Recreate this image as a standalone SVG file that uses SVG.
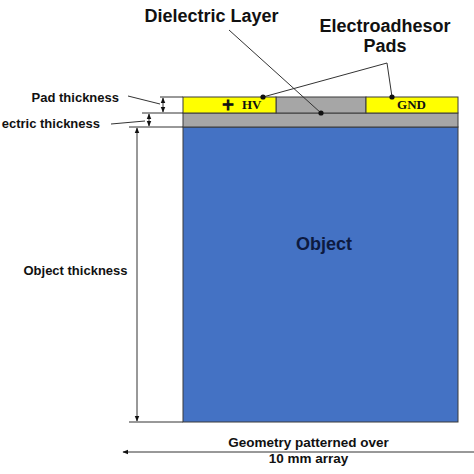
<svg xmlns="http://www.w3.org/2000/svg" width="474" height="474" viewBox="0 0 474 474">
<style>
.t{font-family:"Liberation Sans",Arial,sans-serif;font-weight:bold;fill:#111}
.s{font-family:"Liberation Serif","Times New Roman",serif;font-weight:bold;fill:#111}
.ln{stroke:#333;stroke-width:1;fill:none}
.bd{stroke:#3a3a3a;stroke-width:1}
</style>
<defs>
<marker id="ah" viewBox="0 0 10 10" refX="9" refY="5" markerWidth="6" markerHeight="6" orient="auto-start-reverse" markerUnits="userSpaceOnUse">
<path d="M0,1 L10,5 L0,9 z" fill="#111"/>
</marker>
</defs>
<rect width="474" height="474" fill="#fff"/>
<g id="object">
<rect x="183" y="127" width="275" height="295" fill="#4472C4" class="bd"/>
<text x="324" y="250" class="t" font-size="18" text-anchor="middle" style="fill:#0d1a40">Object</text>
</g>
<g id="dielectric">
<rect x="183" y="113" width="275" height="14" fill="#A6A6A6" class="bd"/>
<rect x="276" y="97" width="90" height="16" fill="#A6A6A6" class="bd"/>
</g>
<g id="hv-pad">
<rect x="183" y="97" width="93" height="16" fill="#FFFF00" class="bd"/>
<text x="222" y="111.5" class="s" font-size="21" stroke="#111" stroke-width="1">+</text>
<text x="242" y="109" class="s" font-size="13">HV</text>
</g>
<g id="gnd-pad">
<rect x="366" y="97" width="92" height="16" fill="#FFFF00" class="bd"/>
<text x="411.5" y="109" class="s" font-size="13" text-anchor="middle">GND</text>
</g>
<g id="labels">
<text x="211.5" y="22" class="t" font-size="18" text-anchor="middle">Dielectric Layer</text>
<text x="385" y="32" class="t" font-size="18" text-anchor="middle">Electroadhesor</text>
<text x="385" y="52" class="t" font-size="18" text-anchor="middle">Pads</text>
<text x="119" y="102" class="t" font-size="13" text-anchor="end">Pad thickness</text>
<text x="100" y="128" class="t" font-size="13" text-anchor="end">ectric thickness</text>
<text x="75.5" y="275" class="t" font-size="13" text-anchor="middle">Object thickness</text>
<text x="308.5" y="447" class="t" font-size="13.5" text-anchor="middle">Geometry patterned over</text>
<text x="308.5" y="463" class="t" font-size="13.5" text-anchor="middle">10 mm array</text>
</g>
<g id="connectors">
<line x1="229" y1="30" x2="321" y2="113" class="ln"/>
<circle cx="321" cy="113" r="2.6" fill="#111"/>
<polyline points="263,97 387,63 392,97" class="ln"/>
<circle cx="263" cy="97" r="2.6" fill="#111"/>
<circle cx="392" cy="97" r="2.6" fill="#111"/>
<line x1="160" y1="97" x2="183" y2="97" class="ln"/>
<line x1="142" y1="113" x2="183" y2="113" class="ln"/>
<line x1="129" y1="127" x2="183" y2="127" class="ln"/>
<line x1="129" y1="422" x2="183" y2="422" class="ln"/>
<line x1="163" y1="98" x2="163" y2="112" class="ln" marker-start="url(#ah)" marker-end="url(#ah)"/>
<line x1="149" y1="114" x2="149" y2="126" class="ln" marker-start="url(#ah)" marker-end="url(#ah)"/>
<line x1="137" y1="128" x2="137" y2="421" class="ln" marker-start="url(#ah)" marker-end="url(#ah)"/>
<line x1="128" y1="96" x2="160" y2="104" class="ln"/>
<line x1="111" y1="124" x2="145" y2="121" class="ln"/>
<line x1="474" y1="452" x2="123" y2="452" class="ln" marker-end="url(#ah)"/>
</g>
</svg>
